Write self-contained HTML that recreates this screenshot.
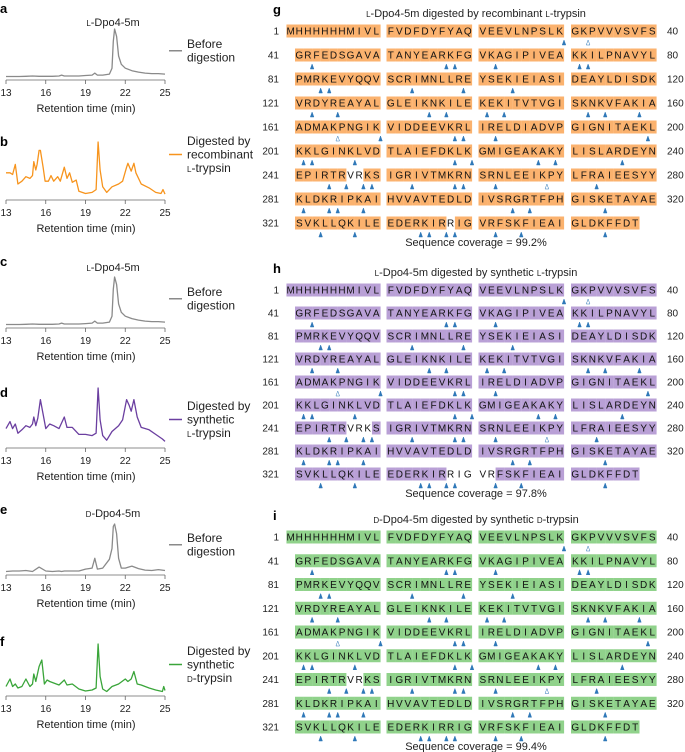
<!DOCTYPE html>
<html><head><meta charset="utf-8">
<style>
body{margin:0;background:#fff;}
svg{display:block;font-family:"Liberation Sans",sans-serif;}
.sc{font-variant:small-caps;}
</style></head>
<body>
<svg id="fig" width="685" height="752" viewBox="0 0 685 752"></svg>
<script>
// ---------- chromatogram data ----------
const beforeT = [13,13.5,14,14.5,15,15.5,16,16.5,17,17.2,17.4,18,18.5,19,19.5,19.7,19.9,20.3,20.8,21.0,21.1,21.2,21.35,21.5,21.7,22,22.5,23,23.5,24,24.5,25];
const beforeV = [0.03,0.03,0.03,0.035,0.04,0.035,0.035,0.035,0.04,0.06,0.04,0.04,0.04,0.05,0.06,0.1,0.06,0.06,0.08,0.2,0.75,1.0,0.85,0.45,0.28,0.2,0.15,0.12,0.1,0.09,0.09,0.08];
const beforeEV = [0.03,0.04,0.04,0.05,0.03,0.12,0.04,0.03,0.04,0.03,0.04,0.04,0.04,0.08,0.1,0.3,0.08,0.1,0.28,0.5,0.95,1.0,0.8,0.3,0.1,0.1,0.14,0.09,0.06,0.05,0.07,0.05];
const orangeT = [13,13.3,13.5,13.7,13.9,14.2,14.5,14.8,15.0,15.1,15.25,15.35,15.5,15.6,15.8,15.95,16.2,16.4,16.6,16.9,17.1,17.4,17.6,17.8,18.0,18.3,18.5,19,19.5,19.8,19.95,20.1,20.3,20.6,21.0,21.5,21.8,22.1,22.2,22.45,22.65,22.8,23.2,23.8,24.3,24.7,24.85,25];
const orangeV = [0.45,0.45,0.42,0.6,0.25,0.3,0.38,0.35,0.4,0.65,0.5,0.6,0.85,0.85,0.55,0.3,0.3,0.4,0.3,0.38,0.3,0.55,0.35,0.45,0.28,0.32,0.12,0.08,0.1,0.15,1.0,0.5,0.2,0.1,0.2,0.25,0.3,0.55,0.62,0.48,0.62,0.45,0.25,0.18,0.1,0.08,0.15,0.07];
const purpleT = [13,13.3,13.5,13.7,13.9,14.2,14.5,14.8,15.0,15.1,15.25,15.4,15.6,15.8,16.0,16.3,16.6,17.0,17.4,17.6,18.0,18.5,19,19.5,19.8,19.95,20.1,20.3,20.6,21.0,21.5,21.8,22.1,22.3,22.45,22.65,22.9,23.2,23.8,24.3,24.8,25];
const purpleV = [0.3,0.42,0.3,0.38,0.22,0.28,0.35,0.32,0.38,0.5,0.35,0.48,0.8,0.55,0.3,0.38,0.35,0.3,0.5,0.32,0.32,0.2,0.2,0.18,0.22,1.0,0.45,0.18,0.1,0.25,0.35,0.45,0.8,0.7,0.6,0.8,0.5,0.32,0.28,0.2,0.12,0.08];
const greenT = [13,13.3,13.5,13.7,13.9,14.2,14.5,14.8,15.0,15.1,15.25,15.5,15.7,15.9,16.1,16.3,16.6,17.0,17.4,17.6,18.0,18.5,19,19.5,19.8,19.95,20.1,20.3,20.6,21.0,21.5,22.0,22.2,22.45,22.65,22.9,23.2,23.8,24.3,24.8,24.9,25];
const greenV = [0.15,0.3,0.15,0.2,0.12,0.15,0.3,0.15,0.2,0.4,0.25,0.55,0.68,0.2,0.28,0.25,0.22,0.18,0.28,0.18,0.2,0.1,0.06,0.08,0.12,1.0,0.35,0.1,0.05,0.15,0.2,0.3,0.25,0.3,0.45,0.2,0.18,0.12,0.08,0.05,0.15,0.07];
const xTicks = [13,16,19,22,25];

// ---------- sequence data ----------
const seqRows = [
 "MHHHHHHMIVL FVDFDYFYAQ VEEVLNPSLK GKPVVVSVFS",
 "GRFEDSGAVA TANYEARKFG VKAGIPIVEA KKILPNAVYL",
 "PMRKEVYQQV SCRIMNLLRE YSEKIEIASI DEAYLDISDK",
 "VRDYREAYAL GLEIKNKILE KEKITVTVGI SKNKVFAKIA",
 "ADMAKPNGIK VIDDEEVKRL IRELDIADVP GIGNITAEKL",
 "KKLGINKLVD TLAIEFDKLK GMIGEAKAKY LISLARDEYN",
 "EPIRTRVRKS IGRIVTMKRN SRNLEEIKPY LFRAIEESYY",
 "KLDKRIPKAI HVVAVTEDLD IVSRGRTFPH GISKETAYAE",
 "SVKLLQKILE EDERKIRRIG VRFSKFIEAI GLDKFFDT"];
const rowStarts = ["1","41","81","121","161","201","241","281","321"];
const rowEnds = ["40","80","120","160","200","240","280","320",""];
const coverages = ["99.2%","97.8%","99.4%"];
// uncovered residues: [row, block, index]
const uncovG = [[6,0,6],[6,0,7],[8,1,7]];
const uncovH = [[6,0,6],[6,0,7],[6,0,8],[8,1,7],[8,1,8],[8,1,9],[8,2,0],[8,2,1]];
const uncovI = [[6,0,6],[6,0,7]];

const NS="http://www.w3.org/2000/svg";
const svg=document.getElementById('fig');
function mk(tag,attrs,parent){const e=document.createElementNS(NS,tag);for(const k in attrs)e.setAttribute(k,attrs[k]);(parent||svg).appendChild(e);return e;}
function txt(s,x,y,size,opts,parent){const t=mk('text',Object.assign({x:x,y:y,'font-size':size,fill:'#222'},opts||{}),parent);t.innerHTML=s;return t;}

// ---------- chromatograms ----------
const X0=6,X1=165;
function xs(t){return X0+(t-13)/12*(X1-X0);}
const panels=[
 {letter:'a',lyy:13,ax:80,top:29,T:beforeT,V:beforeV,col:'#8a8a8a',title:'<tspan class="sc">l</tspan>-Dpo4-5m',ty:26,leg:['Before','digestion'],ly:48},
 {letter:'b',lyy:146,ax:200,top:142,T:orangeT,V:orangeV,col:'#f7941d',leg:['Digested by','recombinant','<tspan class="sc">l</tspan>-trypsin'],ly:145},
 {letter:'c',lyy:266,ax:328,top:277,T:beforeT,V:beforeV,col:'#8a8a8a',title:'<tspan class="sc">l</tspan>-Dpo4-5m',ty:271,leg:['Before','digestion'],ly:296},
 {letter:'d',lyy:397,ax:448,top:388,T:purpleT,V:purpleV,col:'#6b3fa0',leg:['Digested by','synthetic','<tspan class="sc">l</tspan>-trypsin'],ly:410},
 {letter:'e',lyy:514,ax:575,top:524,T:beforeT,V:beforeEV,col:'#8a8a8a',title:'<tspan class="sc">d</tspan>-Dpo4-5m',ty:517,leg:['Before','digestion'],ly:542},
 {letter:'f',lyy:646,ax:696,top:644,T:greenT,V:greenV,col:'#3aa53a',leg:['Digested by','synthetic','<tspan class="sc">d</tspan>-trypsin'],ly:655}
];
panels.forEach(p=>{
  const g=mk('g',{});
  
  
  const base=p.ax-2, h=base-p.top;
  const ys=v=>base-v*h;
  const l=txt(p.letter,0,p.lyy,13,{'font-weight':'bold',fill:'#000'},g);
  
  
  if(p.title){const t=txt(p.title,113,p.ty,11,{'text-anchor':'middle'},g);
    
    }
  let d='';p.T.forEach((t,i)=>{d+=(i?'L':'M')+xs(t).toFixed(1)+','+ys(p.V[i]).toFixed(1);});
  const path=mk('path',{d:d,fill:'none',stroke:p.col,'stroke-width':1.3,'stroke-linejoin':'round'},g);
  
  
  const axl=mk('line',{x1:X0,x2:X1,y1:p.ax,y2:p.ax,stroke:'#666','stroke-width':0.8},g);
  
  
  xTicks.forEach(t=>{
    mk('line',{x1:xs(t),x2:xs(t),y1:p.ax,y2:p.ax+4,stroke:'#666','stroke-width':0.8},g);
    const tl=txt(String(t),xs(t),p.ax+16,10,{'text-anchor':'middle'},g);
    
    
  });
  const at=txt('Retention time (min)',86,p.ax+32,11,{'text-anchor':'middle'},g);
  
  
  const lg=mk('g',{},g);
  
  
  const midY=p.ly+(p.leg.length-1)*13.5/2-4;
  mk('line',{x1:169,x2:182,y1:midY,y2:midY,stroke:p.col,'stroke-width':1.5},lg);
  p.leg.forEach((s,i)=>txt(s,187,p.ly+i*13.5,12,{},lg));
});

// ---------- sequence panels ----------
const blockX=[295,386.5,478.5,571];
const pitch=8.55;
const seqPanels=[
 {letter:'g',title:'<tspan class="sc">l</tspan>-Dpo4-5m digested by recombinant <tspan class="sc">l</tspan>-trypsin',y0:31,dy:24,col:'#fbb26e',unc:uncovG,cov:coverages[0]},
 {letter:'h',title:'<tspan class="sc">l</tspan>-Dpo4-5m digested by synthetic <tspan class="sc">l</tspan>-trypsin',y0:290,dy:23,col:'#b9a0d6',unc:uncovH,cov:coverages[1]},
 {letter:'i',title:'<tspan class="sc">d</tspan>-Dpo4-5m digested by synthetic <tspan class="sc">d</tspan>-trypsin',y0:537,dy:23.75,col:'#90d28b',unc:uncovI,cov:coverages[2]}
];
seqPanels.forEach(sp=>{
  const g=mk('g',{});
  
  
  const L=txt(sp.letter,273,sp.y0-17,13,{'font-weight':'bold',fill:'#000'},g);
  
  
  const T=txt(sp.title,476,sp.y0-14,11,{'text-anchor':'middle'},g);
  
  
  const unc=new Set(sp.unc.map(a=>a.join(',')));
  seqRows.forEach((row,r)=>{
    const y=sp.y0+r*sp.dy;
    const sn=txt(rowStarts[r],279,y+3.5,10,{'text-anchor':'end'},g);
    
    
    if(rowEnds[r]){const en=txt(rowEnds[r],667,y+3.5,10,{},g);
      
      }
    const blocks=row.split(' ');
    blocks.forEach((blk,b)=>{
      const start=(r===0&&b===0)?blockX[0]-pitch:blockX[b];
      for(let i=0;i<blk.length;i++){
        const x=start+i*pitch;
        if(!unc.has(r+','+b+','+(r===0&&b===0?i-1:i))) mk('rect',{x:x,y:y-6.5,width:pitch+0.1,height:13,fill:sp.col},g);
        txt(blk[i],x+pitch/2,y+3.5,10,{'text-anchor':'middle',fill:'#111'},g);
        const c=blk[i];
        if((c==='K'||c==='R')&&(i<blk.length-1||b<3)){
          const nx=blk[i+1]||(blocks[b+1]||'')[0];
          const tx=x+pitch, ty=y+9;
          const tri=mk('path',{d:`M${tx-1.8},${ty+5}L${tx},${ty}L${tx+1.8},${ty+5}Z`,fill:nx==='P'?'#fff':'#2f78b8',stroke:'#2f78b8','stroke-width':0.5},g);
          
          
        }
      }
    });
  });
  const cv=txt('Sequence coverage = '+sp.cov,476,sp.y0+8*sp.dy+23,11,{'text-anchor':'middle'},g);
  
  
});
</script>
</body></html>
